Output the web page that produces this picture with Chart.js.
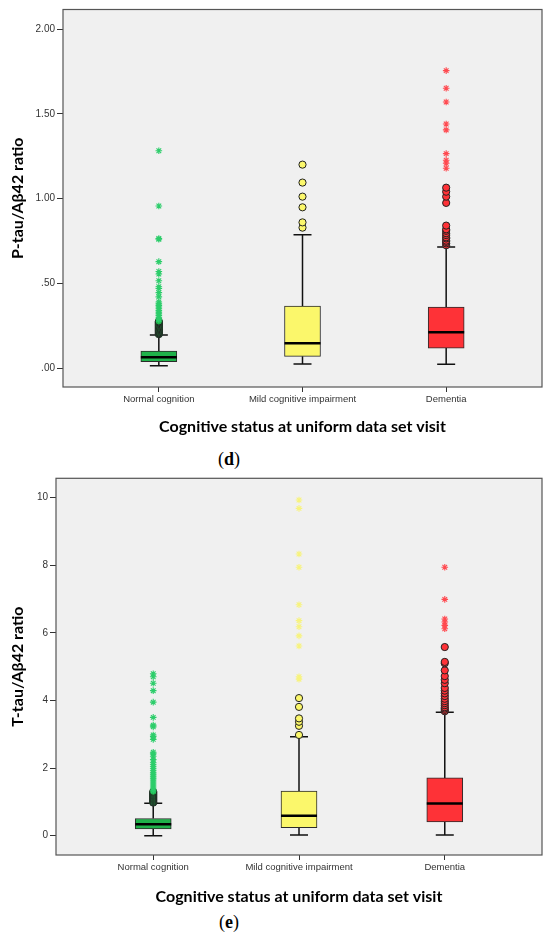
<!DOCTYPE html>
<html>
<head>
<meta charset="utf-8">
<script src="https://cdn.jsdelivr.net/npm/chart.js@4.4.1/dist/chart.umd.min.js"></script>
<style>
  body { margin: 0; background: #fff; width: 550px; height: 941px; position: relative; overflow: hidden; }
  canvas { position: absolute; left: 0; }
  #ptauChart { top: 0; }
  #ttauChart { top: 470px; }
  .caption { position: absolute; font-family: "Liberation Serif", "DejaVu Serif", serif; font-size: 18px; color: #000; transform: translate(-50%, -50%); }
</style>
</head>
<body>
<canvas id="ptauChart" width="550" height="440"></canvas>
<canvas id="ttauChart" width="550" height="440"></canvas>
<div class="caption" style="left:229px; top:459px">(<b>d</b>)</div>
<div class="caption" style="left:229px; top:922px">(<b>e</b>)</div>
<script>
const categories = ['Normal cognition', 'Mild cognitive impairment', 'Dementia'];
const boxColors = ['#1fb24a', '#fbf76b', '#fe3237'];
const starColors = ['#2ccd6a', '#f7f37e', '#ff4a50'];

// (d) P-tau/Aβ42 ratio
const ptauTicks = [0, 0.5, 1, 1.5, 2];
const ptauLow = [0.014, 0.024, 0.022];
const ptauQ1 = [0.037, 0.069, 0.118];
const ptauMedian = [0.063, 0.146, 0.211];
const ptauQ3 = [0.100, 0.366, 0.360];
const ptauHigh = [0.195, 0.787, 0.715];
const ptauCircles = [
  [0.20, 0.205, 0.21, 0.215, 0.22, 0.225, 0.23, 0.235, 0.24, 0.245, 0.25, 0.255, 0.26, 0.265, 0.27, 0.275],
  [0.829, 0.86, 0.949, 1.012, 1.095, 1.201],
  [0.725, 0.736, 0.745, 0.752, 0.765, 0.772, 0.785, 0.796, 0.81, 0.819, 0.841, 0.975, 1.012, 1.041, 1.065]
];
const ptauStars = [
  [0.285, 0.29, 0.30, 0.31, 0.32, 0.33, 0.34, 0.35, 0.36, 0.37, 0.38, 0.39, 0.42, 0.445, 0.47, 0.48, 0.515, 0.555, 0.57, 0.628, 0.76, 0.765, 0.957, 1.283],
  [],
  [1.18, 1.209, 1.227, 1.266, 1.406, 1.441, 1.571, 1.652, 1.756]
];

// (e) T-tau/Aβ42 ratio
const ttauTicks = [0, 2, 4, 6, 8, 10];
const ttauLow = [0.0, 0.02, 0.02];
const ttauQ1 = [0.20, 0.24, 0.41];
const ttauMedian = [0.34, 0.59, 0.95];
const ttauQ3 = [0.51, 1.32, 1.71];
const ttauHigh = [0.96, 2.93, 3.65];
const ttauCircles = [
  [0.98, 1.0, 1.03, 1.06, 1.09, 1.12, 1.15, 1.18, 1.21, 1.24, 1.27, 1.30],
  [2.98, 3.25, 3.37, 3.47, 3.81, 4.07],
  [3.68, 3.72, 3.76, 3.80, 3.86, 3.92, 3.98, 4.05, 4.13, 4.21, 4.29, 4.37, 4.51, 4.61, 4.72, 4.89, 5.10, 5.14, 5.58]
];
const ttauStars = [
  [1.33, 1.38, 1.44, 1.5, 1.56, 1.62, 1.68, 1.74, 1.8, 1.86, 1.92, 1.98, 2.04, 2.1, 2.16, 2.25, 2.35, 2.42, 2.47, 2.85, 2.93, 2.98, 3.22, 3.27, 3.5, 3.95, 4.29, 4.51, 4.7, 4.79],
  [4.63, 4.70, 5.61, 5.91, 6.18, 6.36, 6.83, 7.94, 8.33, 9.68, 9.93],
  [6.12, 6.22, 6.32, 6.41, 6.99, 7.94]
];

// whiskers, caps, medians, plot background and frame
const boxParts = {
  id: 'boxParts',
  beforeDraw(chart) {
    const a = chart.chartArea, ctx = chart.ctx;
    ctx.save();
    ctx.fillStyle = '#f0f0f0';
    ctx.fillRect(a.left, a.top, a.width, a.height);
    ctx.restore();
  },
  beforeDatasetsDraw(chart, args, opts) {
    const a = chart.chartArea, ctx = chart.ctx;
    const x = chart.scales.x, y = chart.scales.y;
    ctx.save();
    ctx.strokeStyle = '#555';
    ctx.lineWidth = 1.2;
    ctx.strokeRect(a.left, a.top, a.width, a.height);
    ctx.strokeStyle = '#111';
    ctx.lineWidth = 1.5;
    categories.forEach((c, i) => {
      const px = x.getPixelForValue(i);
      ctx.beginPath();
      ctx.moveTo(px, y.getPixelForValue(opts.q3[i]));
      ctx.lineTo(px, y.getPixelForValue(opts.high[i]));
      ctx.moveTo(px, y.getPixelForValue(opts.q1[i]));
      ctx.lineTo(px, y.getPixelForValue(opts.low[i]));
      [opts.high[i], opts.low[i]].forEach(v => {
        const py = y.getPixelForValue(v);
        ctx.moveTo(px - opts.capHalf, py);
        ctx.lineTo(px + opts.capHalf, py);
      });
      ctx.stroke();
    });
    ctx.restore();
  },
  afterDatasetDraw(chart, args, opts) {
    if (args.meta.type !== 'bar') return;
    const ctx = chart.ctx, x = chart.scales.x, y = chart.scales.y;
    ctx.save();
    ctx.strokeStyle = '#000';
    ctx.lineWidth = 2.5;
    categories.forEach((c, i) => {
      const px = x.getPixelForValue(i), py = y.getPixelForValue(opts.median[i]);
      ctx.beginPath();
      ctx.moveTo(px - opts.boxHalf, py);
      ctx.lineTo(px + opts.boxHalf, py);
      ctx.stroke();
    });
    ctx.restore();
  }
};

function boxChart(id, o) {
  const datasets = [{
    type: 'bar',
    data: categories.map((c, i) => ({ x: i, y: [o.q1[i], o.q3[i]] })),
    backgroundColor: boxColors,
    borderColor: '#2b2b2b',
    borderWidth: 1,
    borderSkipped: false,
    barThickness: 36,
    order: 2
  }];
  categories.forEach((c, i) => {
    datasets.push({
      type: 'scatter',
      data: o.circles[i].map(v => ({ x: i, y: v })),
      pointStyle: 'circle', radius: 3.6,
      backgroundColor: boxColors[i], borderColor: '#222', borderWidth: 1,
      order: 1
    });
    datasets.push({
      type: 'scatter',
      data: o.stars[i].map(v => ({ x: i, y: v })),
      pointStyle: 'star', radius: 3.3,
      borderColor: starColors[i], borderWidth: 1.1,
      order: 0
    });
  });

  const tickFont = { family: 'Liberation Sans', size: 9.5 };
  const titleFont = { family: 'Lato', weight: 'bold', size: 16 };

  new Chart(document.getElementById(id), {
    type: 'bar',
    data: { datasets },
    plugins: [boxParts],
    options: {
      responsive: false,
      animation: false,
      layout: { padding: { top: o.padTop, right: 8, left: 0, bottom: 0 } },
      scales: {
        x: {
          type: 'linear', min: -0.667, max: 2.667, offset: false,
          afterBuildTicks: s => { s.ticks = categories.map((c, i) => ({ value: i })); },
          afterFit: s => { s.height = o.xAxisH; },
          ticks: { callback: v => categories[v], font: tickFont, color: '#333', padding: 2, maxRotation: 0, autoSkip: false },
          grid: { offset: false, drawOnChartArea: false, drawTicks: true, tickLength: 5, color: '#333' },
          border: { display: false },
          title: { display: true, text: 'Cognitive status at uniform data set visit', font: titleFont, color: '#000', padding: { top: 4, bottom: 4 } }
        },
        y: {
          type: 'linear', min: o.yMin, max: o.yMax,
          afterBuildTicks: s => { s.ticks = o.ticks.map(v => ({ value: v })); },
          afterFit: s => { s.width = o.yAxisW; },
          ticks: { callback: o.fmt, font: { family: 'Liberation Sans', size: 10 }, color: '#333', padding: 2 },
          grid: { drawOnChartArea: false, drawTicks: true, tickLength: 6, color: '#333' },
          border: { display: false },
          title: { display: true, text: o.yTitle, font: titleFont, color: '#000', padding: { top: 8, bottom: 4 } }
        }
      },
      plugins: {
        legend: { display: false },
        tooltip: { enabled: false },
        boxParts: { low: o.low, q1: o.q1, median: o.median, q3: o.q3, high: o.high, capHalf: 9, boxHalf: 18 }
      }
    }
  });
}

boxChart('ptauChart', {
  yTitle: 'P-tau/Aβ42 ratio', yMin: -0.112, yMax: 2.117, ticks: ptauTicks,
  fmt: v => v.toFixed(2).replace(/^0/, ''),
  low: ptauLow, q1: ptauQ1, median: ptauMedian, q3: ptauQ3, high: ptauHigh,
  circles: ptauCircles, stars: ptauStars,
  padTop: 9.5, xAxisH: 53, yAxisW: 63
});

boxChart('ttauChart', {
  yTitle: 'T-tau/Aβ42 ratio', yMin: -0.57, yMax: 10.57, ticks: ttauTicks,
  fmt: v => String(v),
  low: ttauLow, q1: ttauQ1, median: ttauMedian, q3: ttauQ3, high: ttauHigh,
  circles: ttauCircles, stars: ttauStars,
  padTop: 8.3, xAxisH: 55, yAxisW: 56
});
</script>
</body>
</html>
